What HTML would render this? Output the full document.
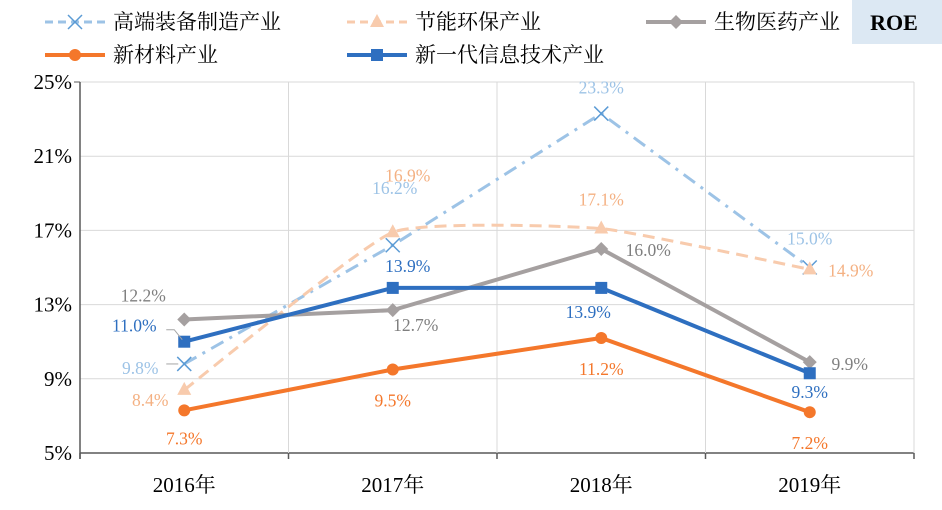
<!DOCTYPE html>
<html><head><meta charset="utf-8">
<style>
body{margin:0;background:#fff;width:942px;height:505px;overflow:hidden;font-family:"Liberation Serif","Noto Serif CJK SC",serif;}
svg text{font-family:"Liberation Serif","Noto Serif CJK SC",serif;}
</style></head>
<body>
<svg id="c" width="942" height="505"></svg>
<script>
const categories=["2016年","2017年","2018年","2019年"];
const seriesNames=["高端装备制造产业","节能环保产业","生物医药产业","新材料产业","新一代信息技术产业"];
const highEnd=[9.8,16.2,23.3,15.0];
const green=[8.4,16.9,17.1,14.9];
const bio=[12.2,12.7,16.0,9.9];
const material=[7.3,9.5,11.2,7.2];
const infoTech=[11.0,13.9,13.9,9.3];
const yTicks=[5,9,13,17,21,25];
const series=[highEnd,green,bio,material,infoTech];
const colors=["#9dc3e6","#f8cbad","#a5a0a0","#f4772b","#2e6fc0"];
const labelColors=["#9dc3e6","#f4b183","#7f7f7f","#f4772b","#2e6fc0"];
const dashes=["14,7,3,7","12,7","","",""];
const widths=[3,3,4,4,4];
// label centre offsets [dx,dy] per series per point
const offs=[[[-44,4],[2,-57],[0,-26],[0,-29]],[[-34,10],[15,-57],[0,-29],[41,1]],[[-41,-24],[23,15],[47,1],[40,2]],[[0,28],[0,31],[0,31],[0,31]],[[-50,-16],[15,-22],[-13,24],[0,19]]];
const svg=document.getElementById('c');
const NS="http://www.w3.org/2000/svg";
const L=80,R=914,T=82,B=453;
const x=i=>L+(R-L)/categories.length*(i+0.5);
const y=v=>B-(v-5)/20*(B-T);
function el(t,a,p){const e=document.createElementNS(NS,t);for(const k in a)e.setAttribute(k,a[k]);(p||svg).appendChild(e);return e;}
yTicks.forEach(v=>{
  const g=el('line',{x1:L,x2:R,y1:y(v),y2:y(v),stroke:v===5?'#595959':'#d9d9d9','stroke-width':v===5?1.5:1});
  
  
  const t=el('text',{x:L-8,y:y(v)+7,'text-anchor':'end','font-size':21,fill:'#000'});
  t.textContent=v+'%';
  
  
});
for(let i=0;i<=categories.length;i++){
  const xx=L+(R-L)/categories.length*i;
  const g=el('line',{x1:xx,x2:xx,y1:T,y2:B+6,stroke:i===0?'#595959':'#d9d9d9','stroke-width':i===0?1.5:1});
  
  
  el('line',{x1:xx,x2:xx,y1:B,y2:B+6,stroke:'#595959','stroke-width':1.5});
}
el('line',{x1:L-6,x2:L,y1:T,y2:T,stroke:'#595959'});
categories.forEach((c,i)=>{
  const t=el('text',{x:x(i),y:B+39,'text-anchor':'middle','font-size':21,fill:'#000'});
  t.textContent=c;
  
  
});
function marker(k,cx,cy,g){
  const c=colors[k];
  if(k===0){el('path',{d:`M${cx-7},${cy-7}L${cx+7},${cy+7}M${cx+7},${cy-7}L${cx-7},${cy+7}`,stroke:'#5b9bd5','stroke-width':1.5,fill:'none'},g);}
  else if(k===1){el('polygon',{points:`${cx},${cy-8} ${cx+7},${cy+5} ${cx-7},${cy+5}`,fill:c},g);}
  else if(k===2){el('polygon',{points:`${cx},${cy-7} ${cx+7},${cy} ${cx},${cy+7} ${cx-7},${cy}`,fill:c},g);}
  else if(k===3){el('circle',{cx:cx,cy:cy,r:6,fill:c},g);}
  else {el('rect',{x:cx-6,y:cy-6,width:12,height:12,fill:c},g);}
}
function smoothPath(vals){
  const p=vals.map((v,i)=>[x(i),y(v)]);
  let d=`M${p[0][0]},${p[0][1]}`;
  for(let i=0;i<p.length-1;i++){
    const p0=p[Math.max(0,i-1)],p1=p[i],p2=p[i+1],p3=p[Math.min(p.length-1,i+2)];
    const t=0.07;
    d+=` C${p1[0]+(p2[0]-p0[0])*t},${p1[1]+(p2[1]-p0[1])*t} ${p2[0]-(p3[0]-p1[0])*t},${p2[1]-(p3[1]-p1[1])*t} ${p2[0]},${p2[1]}`;
  }
  return d;
}
[0,1,2,4,3].forEach(k=>{
  const g=el('g',{});
  
  
  const a={fill:'none',stroke:colors[k],'stroke-width':widths[k]};
  if(dashes[k])a['stroke-dasharray']=dashes[k];
  if(k===1){a.d=smoothPath(series[k]);el('path',a,g);}
  else{a.points=series[k].map((v,i)=>x(i)+','+y(v)).join(' ');el('polyline',a,g);}
  series[k].forEach((v,i)=>{
    marker(k,x(i),y(v),g);
    const t=el('text',{x:x(i)+offs[k][i][0],y:y(v)+offs[k][i][1]+6,'text-anchor':'middle','font-size':17.5,fill:labelColors[k]},g);
    t.textContent=v.toFixed(1)+'%';
    
    
  });
});
el('path',{d:`M${x(0)-18},${y(9.8)} H${x(0)-6}`,stroke:'#a5a5a5',fill:'none'});
el('path',{d:`M${x(0)-18},${y(11.0)-12} H${x(0)-10} L${x(0)-2},${y(11.0)-2}`,stroke:'#a5a5a5',fill:'none'});
const legPos=[[45,22],[347,22],[646,22],[45,55],[347,55]];
seriesNames.forEach((n,k)=>{
  const g=el('g',{});
  
  
  const [lx,ly]=legPos[k];
  const a={x1:lx,x2:lx+60,y1:ly,y2:ly,stroke:colors[k],'stroke-width':k<2?3:4};
  if(k<2)a['stroke-dasharray']='8,5';
  el('line',a,g);
  marker(k,lx+30,ly,g);
  const t=el('text',{x:lx+68,y:ly+7,'font-size':21,fill:'#000'},g);
  t.textContent=n;
});
const rb=el('rect',{x:852,y:0,width:90,height:44,fill:'#dce8f3'});


const rt=el('text',{x:894,y:30,'text-anchor':'middle','font-size':22,'font-weight':'bold',fill:'#000'});
rt.textContent='ROE';


</script>
</body></html>
